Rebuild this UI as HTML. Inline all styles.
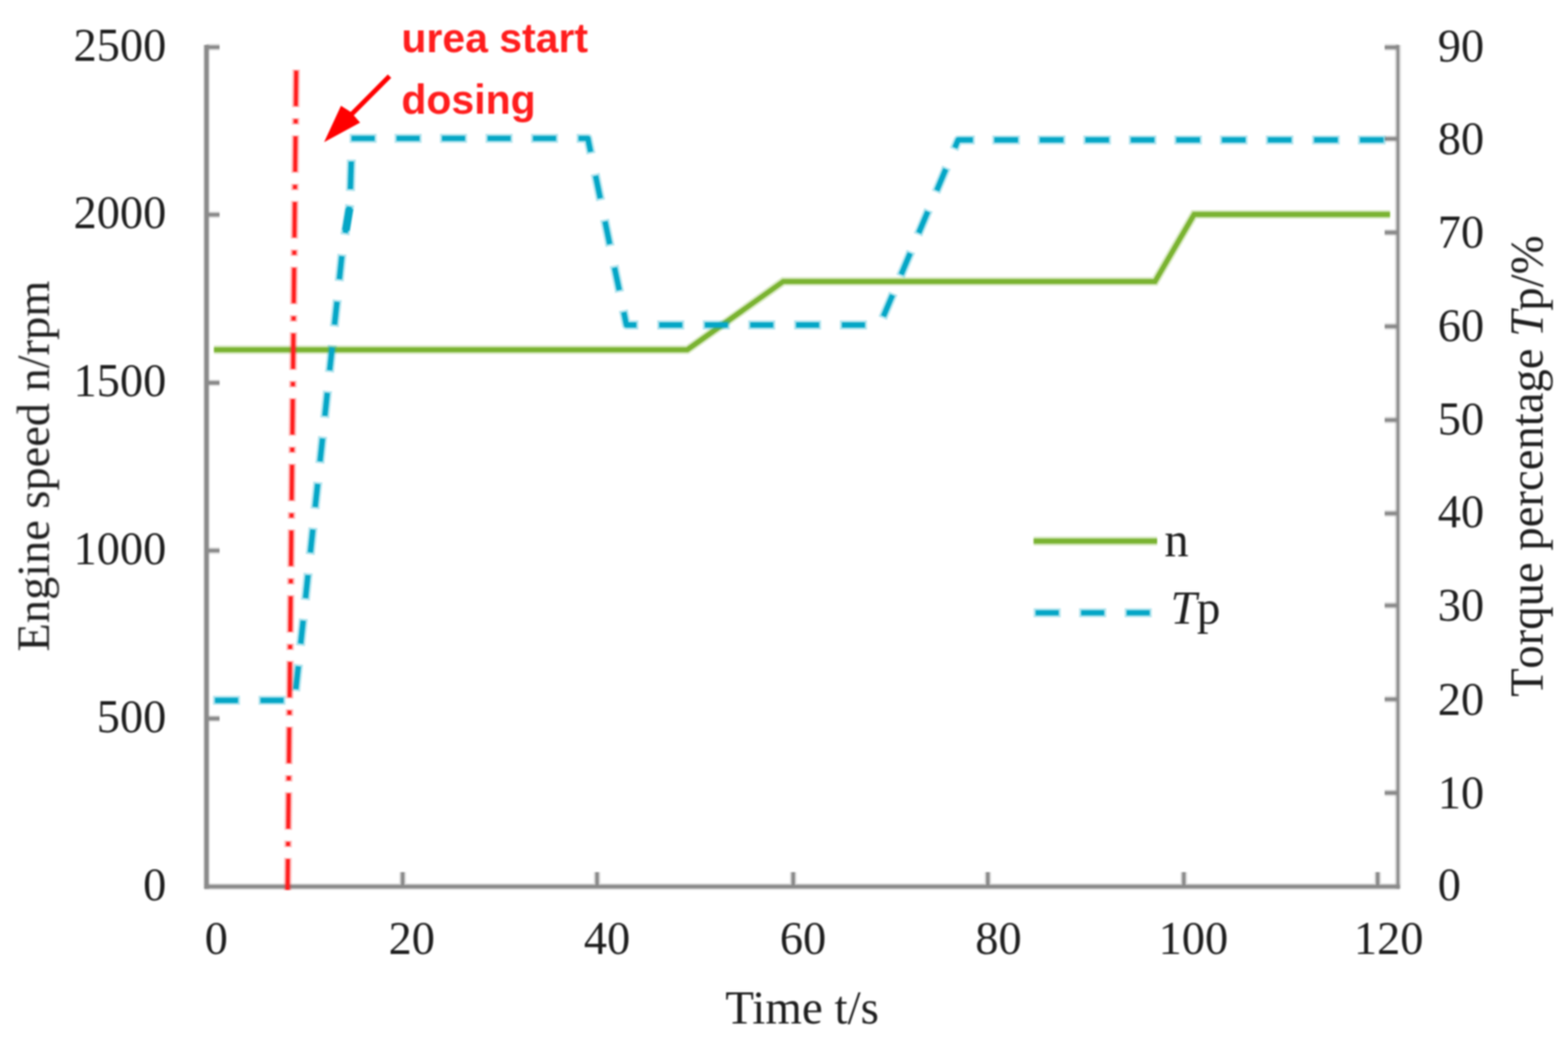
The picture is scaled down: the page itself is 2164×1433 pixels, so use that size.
<!DOCTYPE html>
<html lang="en">
<head>
<meta charset="utf-8">
<title>Engine speed and torque percentage</title>
<style>
html,body{margin:0;padding:0;background:#fff;}
body{width:2164px;height:1433px;overflow:hidden;}
svg{display:block;}
.num,.ttl{font-family:"Liberation Serif","Times New Roman",serif;font-size:64px;fill:#1e1e1e;}
.red{font-family:"Liberation Sans",Arial,sans-serif;font-weight:bold;font-size:56.5px;fill:#ff1d1d;}
.fr{opacity:0.3;}
</style>
</head>
<body>
<svg width="2164" height="1433" viewBox="0 0 2164 1433">
<defs><filter id="soft" x="0" y="0" width="2164" height="1433" filterUnits="userSpaceOnUse" color-interpolation-filters="sRGB"><feGaussianBlur stdDeviation="0.9"/></filter></defs>
<rect x="0" y="0" width="2164" height="1433" fill="#ffffff"/>
<g id="chart" filter="url(#soft)">
<g id="axis-left" fill="none" stroke="#8a8a8a" >
<path class="fr" stroke-width="9.0" d="M285.0 62.0 V1227.0"/>
<path stroke-width="5.8" d="M285.0 62.0 V1227.0"/>
</g>
<g id="axes" fill="none" stroke="#8a8a8a" >
<path class="fr" stroke-width="9.2" d="M282.0 1224.0 H1931.8 M285.0 65.2 H303 M285.0 296.4 H303 M285.0 528.5 H303 M285.0 760.1 H303 M285.0 992.0 H303 M1929.3 65.4 H1911 M1929.3 191.6 H1911 M1929.3 321.0 H1911 M1929.3 450.7 H1911 M1929.3 579.9 H1911 M1929.3 708.8 H1911 M1929.3 835.9 H1911 M1929.3 965.3 H1911 M1929.3 1094.7 H1911 M555.7 1224.0 V1204 M824.0 1224.0 V1204 M1094.7 1224.0 V1204 M1363.3 1224.0 V1204 M1633.8 1224.0 V1204 M1901.3 1224.0 V1204"/>
<path stroke-width="4.8" d="M282.0 1224.0 H1931.8 M285.0 65.2 H303 M285.0 296.4 H303 M285.0 528.5 H303 M285.0 760.1 H303 M285.0 992.0 H303 M1929.3 65.4 H1911 M1929.3 191.6 H1911 M1929.3 321.0 H1911 M1929.3 450.7 H1911 M1929.3 579.9 H1911 M1929.3 708.8 H1911 M1929.3 835.9 H1911 M1929.3 965.3 H1911 M1929.3 1094.7 H1911 M555.7 1224.0 V1204 M824.0 1224.0 V1204 M1094.7 1224.0 V1204 M1363.3 1224.0 V1204 M1633.8 1224.0 V1204 M1901.3 1224.0 V1204"/>
</g>
<g id="axis-right" fill="none" stroke="#8a8a8a" >
<path class="fr" stroke-width="8.6" d="M1929.3 62.0 V1227.0"/>
<path stroke-width="3.6" d="M1929.3 62.0 V1227.0"/>
</g>
<g id="series-n" fill="none" stroke="#7ab331" stroke-linejoin="miter">
<path class="fr" stroke-width="12.0" d="M295.3 482.8 L948.5 482.8 L1081 388.6 L1594 388.6 L1648 296.0 L1918.4 296.0"/>
<path stroke-width="6.8" d="M295.3 482.8 L948.5 482.8 L1081 388.6 L1594 388.6 L1648 296.0 L1918.4 296.0"/>
</g>
<g id="series-tp" fill="none" stroke="#04a6c6" stroke-linejoin="round" stroke-linecap="butt">
<path class="fr" stroke-width="12.6" d="M293.9 966.8 L331.3 966.8 M356.7 966.8 L394.1 966.8 M408.0 954.2 L412.0 917.0 M414.7 891.3 L418.7 854.1 M421.4 828.4 L425.3 791.2 M428.1 765.5 L432.0 728.3 M434.7 702.6 L438.7 665.4 M441.4 639.7 L445.3 602.5 M448.1 576.8 L452.0 539.6 M454.7 513.9 L458.7 476.7 M461.4 451.0 L465.4 413.8 M468.1 388.1 L472.0 350.9 M476.0 324.2 L482.6 283.8 L482.8 282.6 M483.6 263.8 L484.8 221.4 L484.8 220.2 M482.4 191.0 L519.8 191.0 M544.5 191.0 L581.9 191.0 M607.2 191.0 L644.6 191.0 M670.1 191.0 L707.5 191.0 M732.8 191.0 L770.2 191.0 M795.7 191.0 L811.3 191.0 L815.7 212.3 M821.4 239.9 L829.0 276.6 M834.4 303.0 L842.0 339.7 M847.6 366.6 L855.1 403.3 M860.3 428.2 L864.5 448.6 L881.1 448.6 M907.0 448.6 L944.4 448.6 M969.9 448.6 L1007.3 448.6 M1032.6 448.6 L1070.0 448.6 M1095.9 448.6 L1133.3 448.6 M1159.1 448.6 L1196.5 448.6 M1218.2 439.3 L1232.8 404.9 M1242.7 381.5 L1257.2 347.1 M1266.9 324.1 L1281.5 289.7 M1291.8 265.4 L1306.3 231.0 M1316.7 206.4 L1322.3 193.2 L1345.4 193.2 M1369.5 193.2 L1407.7 193.2 M1432.2 193.2 L1470.4 193.2 M1495.1 193.2 L1533.3 193.2 M1557.8 193.2 L1596.0 193.2 M1620.6 193.2 L1658.8 193.2 M1683.6 193.2 L1721.8 193.2 M1746.9 193.2 L1785.1 193.2 M1810.9 193.2 L1849.1 193.2 M1874.1 193.2 L1912.3 193.2"/>
<path stroke-width="7.2" d="M296.7 966.8 L328.5 966.8 M359.5 966.8 L391.3 966.8 M408.3 951.4 L411.7 919.8 M415.0 888.5 L418.4 856.9 M421.7 825.6 L425.0 794.0 M428.4 762.7 L431.7 731.1 M435.0 699.8 L438.4 668.2 M441.7 636.9 L445.1 605.3 M448.4 574.0 L451.7 542.4 M455.0 511.1 L458.4 479.5 M461.7 448.2 L465.1 416.6 M468.4 385.3 L471.7 353.7 M476.5 321.4 L482.3 285.4 M483.6 261.0 L484.8 223.0 M485.2 191.0 L517.0 191.0 M547.3 191.0 L579.1 191.0 M610.0 191.0 L641.8 191.0 M672.9 191.0 L704.7 191.0 M735.6 191.0 L767.4 191.0 M798.5 191.0 L811.3 191.0 L815.1 209.6 M822.0 242.7 L828.4 273.8 M835.0 305.8 L841.4 336.9 M848.1 369.4 L854.6 400.5 M860.9 431.0 L864.5 448.6 L878.3 448.6 M909.8 448.6 L941.6 448.6 M972.7 448.6 L1004.5 448.6 M1035.4 448.6 L1067.2 448.6 M1098.7 448.6 L1130.5 448.6 M1161.9 448.6 L1193.7 448.6 M1219.3 436.7 L1231.7 407.4 M1243.8 378.9 L1256.1 349.6 M1268.0 321.5 L1280.4 292.2 M1292.9 262.8 L1305.2 233.5 M1317.8 203.8 L1322.3 193.2 L1342.6 193.2 M1372.3 193.2 L1404.9 193.2 M1435.0 193.2 L1467.6 193.2 M1497.9 193.2 L1530.5 193.2 M1560.6 193.2 L1593.2 193.2 M1623.4 193.2 L1656.0 193.2 M1686.4 193.2 L1719.0 193.2 M1749.7 193.2 L1782.3 193.2 M1813.7 193.2 L1846.3 193.2 M1876.9 193.2 L1909.5 193.2"/>
<path stroke-width="10.5" d="M477.4 318 L482.4 288"/>
</g>
<g id="urea-line" fill="none" stroke="#ff1d1d">
<path class="fr" stroke-width="10.5" d="M408.8 96 L396.9 1229" stroke-dasharray="52 15 9 14.7"/>
<path stroke-width="5.4" d="M408.8 97.6 L396.9 1228.5" stroke-dasharray="48.8 18.2 5.8 17.9"/>
</g>
<g id="arrow"><path d="M537.6 105.2 L485 158" fill="none" stroke="#ff0000" stroke-width="6.6"/>
<path d="M447.3 196.2 L470.6 146 L484 154.5 L497 169.3 Z" fill="#ff0000"/></g>
<text class="num" transform="translate(229.5 83.8) scale(1 1.04)" text-anchor="end">2500</text>
<text class="num" transform="translate(229.5 315.0) scale(1 1.04)" text-anchor="end">2000</text>
<text class="num" transform="translate(229.5 547.1) scale(1 1.04)" text-anchor="end">1500</text>
<text class="num" transform="translate(229.5 778.7) scale(1 1.04)" text-anchor="end">1000</text>
<text class="num" transform="translate(229.5 1010.6) scale(1 1.04)" text-anchor="end">500</text>
<text class="num" transform="translate(229.5 1242.6) scale(1 1.04)" text-anchor="end">0</text>
<text class="num" transform="translate(1984.2 84.6) scale(1 1.04)" text-anchor="start">90</text>
<text class="num" transform="translate(1984.2 213.3) scale(1 1.04)" text-anchor="start">80</text>
<text class="num" transform="translate(1984.2 342.1) scale(1 1.04)" text-anchor="start">70</text>
<text class="num" transform="translate(1984.2 470.9) scale(1 1.04)" text-anchor="start">60</text>
<text class="num" transform="translate(1984.2 599.6) scale(1 1.04)" text-anchor="start">50</text>
<text class="num" transform="translate(1984.2 728.4) scale(1 1.04)" text-anchor="start">40</text>
<text class="num" transform="translate(1984.2 857.1) scale(1 1.04)" text-anchor="start">30</text>
<text class="num" transform="translate(1984.2 987.1) scale(1 1.04)" text-anchor="start">20</text>
<text class="num" transform="translate(1984.2 1115.8) scale(1 1.04)" text-anchor="start">10</text>
<text class="num" transform="translate(1984.2 1243.3) scale(1 1.04)" text-anchor="start">0</text>
<text class="num" transform="translate(298.5 1316.6) scale(1 1.04)" text-anchor="middle">0</text>
<text class="num" transform="translate(568.3 1316.6) scale(1 1.04)" text-anchor="middle">20</text>
<text class="num" transform="translate(837.8 1316.6) scale(1 1.04)" text-anchor="middle">40</text>
<text class="num" transform="translate(1108.2 1316.6) scale(1 1.04)" text-anchor="middle">60</text>
<text class="num" transform="translate(1378.0 1316.6) scale(1 1.04)" text-anchor="middle">80</text>
<text class="num" transform="translate(1647.0 1316.6) scale(1 1.04)" text-anchor="middle">100</text>
<text class="num" transform="translate(1916.5 1316.6) scale(1 1.04)" text-anchor="middle">120</text>
<text class="ttl" style="font-size:64.8px" x="1001" y="1413.3">Time t/s</text>
<text class="ttl" transform="translate(67.5 643.5) rotate(-90)" text-anchor="middle">Engine speed n/rpm</text>
<text class="ttl" style="font-size:64.5px" transform="translate(2129 962) rotate(-90)">T<tspan dx="3.8">orque percentage </tspan><tspan font-style="italic">T</tspan>p/%</text>
<g id="legend-n" fill="none" stroke="#7ab331" >
<path class="fr" stroke-width="12.6" d="M1426.5 747 H1597"/>
<path stroke-width="6.8" d="M1426.5 747 H1597"/>
</g>
<g id="legend-tp" fill="none" stroke="#04a6c6">
<path class="fr" stroke-width="12.6" d="M1426.5 846 H1463.9 M1489.3 846 H1526.7 M1552.1 846 H1589.5"/>
<path stroke-width="7.2" d="M1429.3 846 H1461.1 M1492.1 846 H1523.9 M1554.9 846 H1586.7"/>
</g>
<text class="ttl" style="font-size:67px" x="1607" y="768">n</text>
<text class="ttl" style="font-size:65px" x="1615.5" y="860.8"><tspan font-style="italic">T</tspan>p</text>
<text class="red" x="554" y="71.5">urea start</text>
<text class="red" x="554" y="157">dosing</text>
</g>
</svg>
</body>
</html>
